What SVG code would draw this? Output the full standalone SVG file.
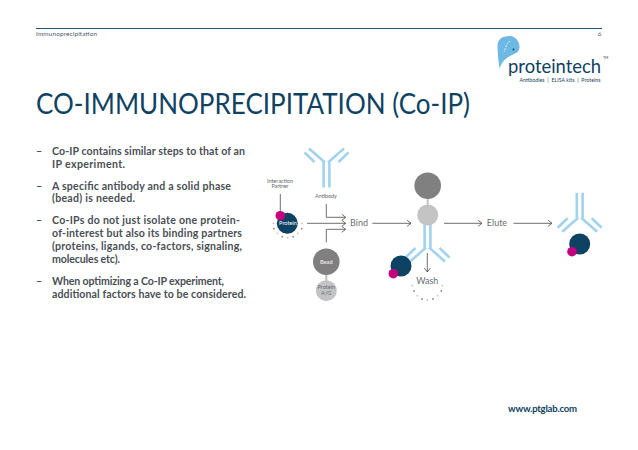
<svg xmlns="http://www.w3.org/2000/svg" width="638" height="450" viewBox="0 0 638 450">
<style>
text{font-family:"Lato","Noto Sans",sans-serif}
.b{font-size:10.6px;font-weight:700;fill:#4a4f55}
.s{font-size:5.6px;fill:#666a6e;text-anchor:middle}
.l{font-size:9px;fill:#6b6f73;text-anchor:middle}
.c{fill:none;stroke:#4a4a4a;stroke-width:.8}
.ab{fill:none;stroke:#a3d2ee;stroke-width:2.600;stroke-linecap:butt}
.d{fill:#8a8a8a}
.dl{fill:#c4c4c4}
</style>
<defs>
<marker id="a" markerWidth="5" markerHeight="7" refX="4.400" refY="3.500" orient="auto" markerUnits="userSpaceOnUse"><path d="M.5 .5L4.400 3.500L.5 6.500" fill="none" stroke="#4a4a4a" stroke-width=".8"/></marker>
<g id="ab"><path class="ab" d="M-2.900 -25.500V0M2.900 -25.500V0M-1.500 -.5L-17.500 13.500M1.500 -.5L17.500 13.500M-22 9.500L-12 0M22 9.500L12 0"/></g>
</defs>
<rect width="638" height="450" fill="#fff"/>
<g id="header">
<rect x="36" y="28" width="566" height=".9" fill="#0e4263"/>
<text x="36" y="36" font-size="6.400" fill="#4a5a66" textLength="61">Immunoprecipitation</text>
<text x="599.500" y="36" font-size="6.400" fill="#4a5a66" text-anchor="middle">6</text>
</g>
<g id="logo">
<path d="M510 36C501 36 497.500 40 497.500 46C497.500 53 498.500 62 499.500 68.500C502 61 507 57 512 55C516 53 519.500 52 519.500 47C519.500 41 515 36 510 36Z" fill="#6db9e4"/>
<path d="M510 41L506.500 45L504 52" fill="none" stroke="#fff" stroke-width="1" stroke-dasharray="1.500 1.500"/>
<circle cx="513.500" cy="49.500" r=".9" fill="#0e4263"/>
<text x="508" y="72.500" font-size="18.500" fill="#0e4263" textLength="93" lengthAdjust="spacingAndGlyphs">proteintech</text>
<text x="603" y="58.500" font-size="3.500" fill="#0e4263">TM</text>
<text x="519.500" y="81.500" font-size="5.200" fill="#0e4263" textLength="81" xml:space="preserve">Antibodies  |  ELISA kits  |  Proteins</text>
</g>
<text id="title" x="36" y="113.500" font-size="29" fill="#0e4263" textLength="434" lengthAdjust="spacingAndGlyphs">CO-IMMUNOPRECIPITATION (Co-IP)</text>
<g id="bullets">
<text x="36" y="155" class="b">–</text><text x="52" y="155" class="b" textLength="193">Co-IP contains similar steps to that of an</text>
<text x="52" y="167.500" class="b" textLength="73">IP experiment.</text>
<text x="36" y="189.500" class="b">–</text><text x="52" y="189.500" class="b" textLength="179">A specific antibody and a solid phase</text>
<text x="52" y="202" class="b" textLength="83">(bead) is needed.</text>
<text x="36" y="224" class="b">–</text><text x="52" y="224" class="b" textLength="188">Co-IPs do not just isolate one protein-</text>
<text x="52" y="237" class="b" textLength="190">of-interest but also its binding partners</text>
<text x="52" y="250" class="b" textLength="190">(proteins, ligands, co-factors, signaling,</text>
<text x="52" y="263" class="b" textLength="68">molecules etc).</text>
<text x="36" y="284.500" class="b">–</text><text x="52" y="284.500" class="b" textLength="172">When optimizing a Co-IP experiment,</text>
<text x="52" y="298" class="b" textLength="194">additional factors have to be considered.</text>
</g>
<g id="connectors">
<path class="c" d="M280.300 194V212"/>
<path class="c" d="M326.300 204V217.300H345.700" marker-end="url(#a)"/>
<path class="c" d="M307 223.300H345.700" marker-end="url(#a)"/>
<path class="c" d="M326.300 242.300V229.300H345.700" marker-end="url(#a)"/>
<path class="c" d="M372.300 223.300H411" marker-end="url(#a)"/>
<path class="c" d="M444 223.300H482" marker-end="url(#a)"/>
<path class="c" d="M513.500 223.300H552" marker-end="url(#a)"/>
<path class="c" d="M427.300 253V272" marker-end="url(#a)"/>
</g>
<g id="interaction-partner"><text x="280" y="182.700" class="s" textLength="26">Interaction</text><text x="280" y="188.300" class="s" textLength="17">Partner</text></g>
<g id="protein">
<circle cx="287.300" cy="223.300" r="10.500" fill="#0e4263"/>
<circle cx="280.300" cy="215.700" r="4.800" fill="#c5007f"/>
<text x="288" y="225" font-size="5.600" fill="#fff" text-anchor="middle">Protein</text>
<g class="d"><circle cx="274" cy="228.700" r=".9"/><circle cx="282.300" cy="236.700" r=".9"/><circle cx="293.300" cy="236.700" r=".9"/><circle cx="301.700" cy="228.700" r=".9"/></g>
<g class="dl"><circle cx="273.300" cy="223.300" r=".9"/><circle cx="277.300" cy="233.300" r=".9"/><circle cx="287.700" cy="237.700" r=".9"/><circle cx="297.700" cy="233.300" r=".9"/><circle cx="302" cy="223.300" r=".9"/></g>
</g>
<g id="antibody"><use href="#ab" transform="translate(326.500 162) scale(1 -1)"/><text x="326" y="198.300" class="s" textLength="22">Antibody</text></g>
<g id="bead">
<rect x="325.300" y="272" width="2" height="10" fill="#bbb"/>
<circle cx="326.300" cy="261.700" r="13.300" fill="#808080"/>
<text x="326.300" y="263.500" font-size="5.600" font-weight="700" fill="#e6e6e6" text-anchor="middle">Bead</text>
<circle cx="326.300" cy="290.700" r="10.500" fill="#c4c4c4"/>
<text x="326.300" y="289.300" class="s">Protein</text><text x="326.300" y="295.200" class="s">A/G</text>
</g>
<text id="bind" x="359" y="226.300" class="l">Bind</text>
<g id="complex">
<rect x="426.700" y="195" width="2" height="10" fill="#c4c4c4"/>
<use href="#ab" x="427.500" y="248"/>
<circle cx="427.700" cy="185.700" r="13.300" fill="#808080"/>
<circle cx="427.700" cy="215" r="10.500" fill="#c4c4c4"/>
<circle cx="401" cy="266" r="10.500" fill="#0e4263"/>
<circle cx="393.300" cy="273.700" r="4.800" fill="#c5007f"/>
</g>
<g id="wash">
<text x="427.300" y="284" class="l">Wash</text>
<g class="d"><circle cx="414" cy="291" r=".9"/><circle cx="422" cy="299" r=".9"/><circle cx="433" cy="299" r=".9"/><circle cx="441.300" cy="291" r=".9"/></g>
<g class="dl"><circle cx="412.300" cy="285.700" r=".9"/><circle cx="417.300" cy="295.700" r=".9"/><circle cx="427.300" cy="300" r=".9"/><circle cx="437.700" cy="295.700" r=".9"/><circle cx="442.300" cy="285.700" r=".9"/></g>
</g>
<text id="elute" x="497" y="226.300" class="l">Elute</text>
<g id="eluted">
<use href="#ab" x="579.700" y="218.300"/>
<circle cx="579.700" cy="244" r="10.500" fill="#0e4263"/>
<circle cx="572" cy="251.700" r="4.800" fill="#c5007f"/>
</g>
<text id="url" x="508" y="412" font-size="9.600" font-weight="700" fill="#0e4263" textLength="69">www.ptglab.com</text>
</svg>
